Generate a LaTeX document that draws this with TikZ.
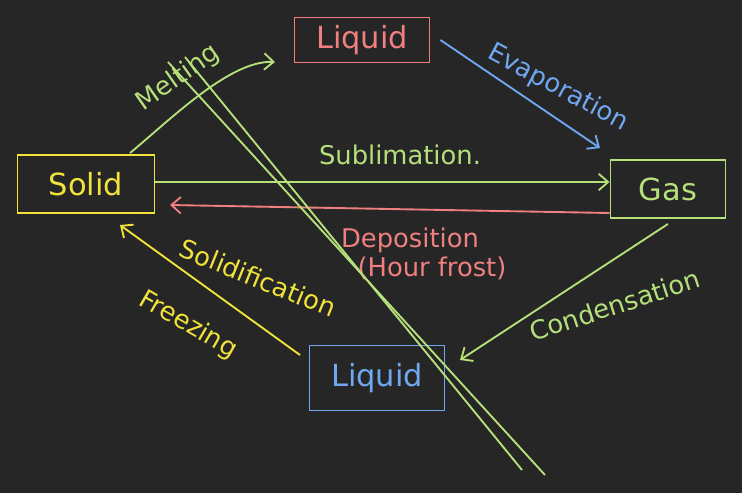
\documentclass[tikz,border=0pt]{standalone}
\usepackage{fontspec}
\setmainfont{DejaVu Sans}
\usetikzlibrary{arrows.meta}
\definecolor{bg}{HTML}{262626}
\definecolor{yel}{HTML}{F2E33A}
\definecolor{rd}{HTML}{F08080}
\definecolor{gr}{HTML}{B5E07A}
\definecolor{bl}{HTML}{6FA8F0}
\begin{document}
\begin{tikzpicture}[x=0.03cm,y=-0.03cm,
  box/.style={draw=#1,text=#1,line width=1.6pt,font=\fontsize{26}{28}\selectfont,inner sep=0pt},
  arr/.style={draw=#1,line width=1.6pt,-{Straight Barb[length=8pt,width=14pt]}},
  lab/.style={text=#1,font=\fontsize{22}{24}\selectfont,inner sep=0pt}]
\fill[bg] (0,0) rectangle (742,493);
\useasboundingbox (0,0) rectangle (742,493);
\node[box=yel,minimum width=137*0.03cm,minimum height=58*0.03cm] (solid) at (86,184) {Solid};
\node[box=rd,minimum width=135*0.03cm,minimum height=45*0.03cm] (liqT) at (362,40) {Liquid};
\node[box=gr,minimum width=115*0.03cm,minimum height=58*0.03cm] (gas) at (668,189) {Gas};
\node[box=bl,minimum width=135*0.03cm,minimum height=65*0.03cm] (liqB) at (377,378) {Liquid};
\coordinate (m1) at (130,153);
\coordinate (m2) at (275,62);
\draw[arr=gr] (m1) .. controls (170,120) and (230,60) .. (m2);
\node[lab=gr,rotate=35] (melt) at (178,78) {Melting};
\draw[arr=bl] (liqT.east) ++(10,0) coordinate (e1) -- (600,148) coordinate (e2);
\node[lab=bl,rotate=-28] (evap) at (558,88) {Evaporation};
\draw[arr=gr] (solid.east) ++(0,-2) -- (gas.west |- 0,182);
\node[lab=gr] (subl) at (400,155) {Sublimation.};
\draw[arr=rd] (gas.west |- 0,213) -- (170,205);
\node[lab=rd] (dep) at (410,240) {Deposition};
\node[lab=rd] (hf) at (432,268) {(Hour frost)};
\draw[arr=gr] (gas.south) ++(0,5) -- (460,360);
\node[lab=gr,rotate=18] (cond) at (615,305) {Condensation};
\draw[arr=yel] (300,355) -- (120,225);
\node[lab=yel,rotate=-22] (solidif) at (258,278) {Solidification};
\node[lab=yel,rotate=-30] (frz) at (188,325) {Freezing};
\draw[gr,line width=1.6pt] (168,62) -- (545,475);
\draw[gr,line width=1.6pt] (185,57) -- (522,470);
\end{tikzpicture}
\end{document}
